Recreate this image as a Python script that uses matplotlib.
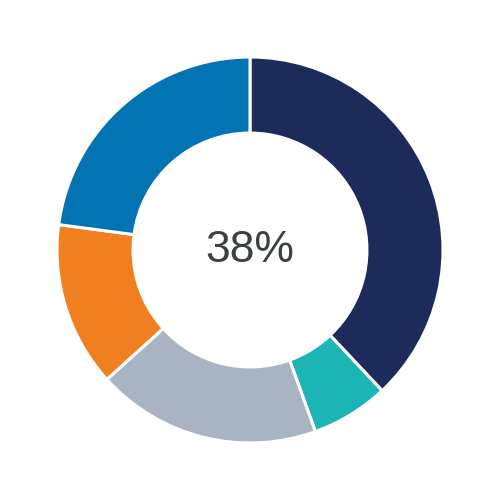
import matplotlib.pyplot as plt

# slice values (percent), clockwise from the top
labels = ['A', 'B', 'C', 'D', 'E']
values = [38, 6.5, 18.8, 13.8, 22.9]
colors = ['#1c2b5a', '#1bb5b5', '#a9b4c2', '#f07f1f', '#0273b3']
center_text = '38%'

fig = plt.figure(figsize=(5, 5), dpi=100)
ax = fig.add_axes([0, 0, 1, 1])

ax.pie(values, colors=colors, startangle=90, counterclock=False,
       radius=1.0,
       wedgeprops=dict(width=0.394, edgecolor='white', linewidth=2.2))

ax.text(0, 0, center_text, ha='center', va='center', fontsize=32,
        color='#3b4046', family=['Liberation Sans', 'DejaVu Sans'])

lim = 250 / 193
ax.set_xlim(-lim, lim)
ax.set_ylim(-lim, lim)
ax.set_aspect('equal')
ax.axis('off')

fig.savefig('out.png', dpi=100, facecolor='white')
